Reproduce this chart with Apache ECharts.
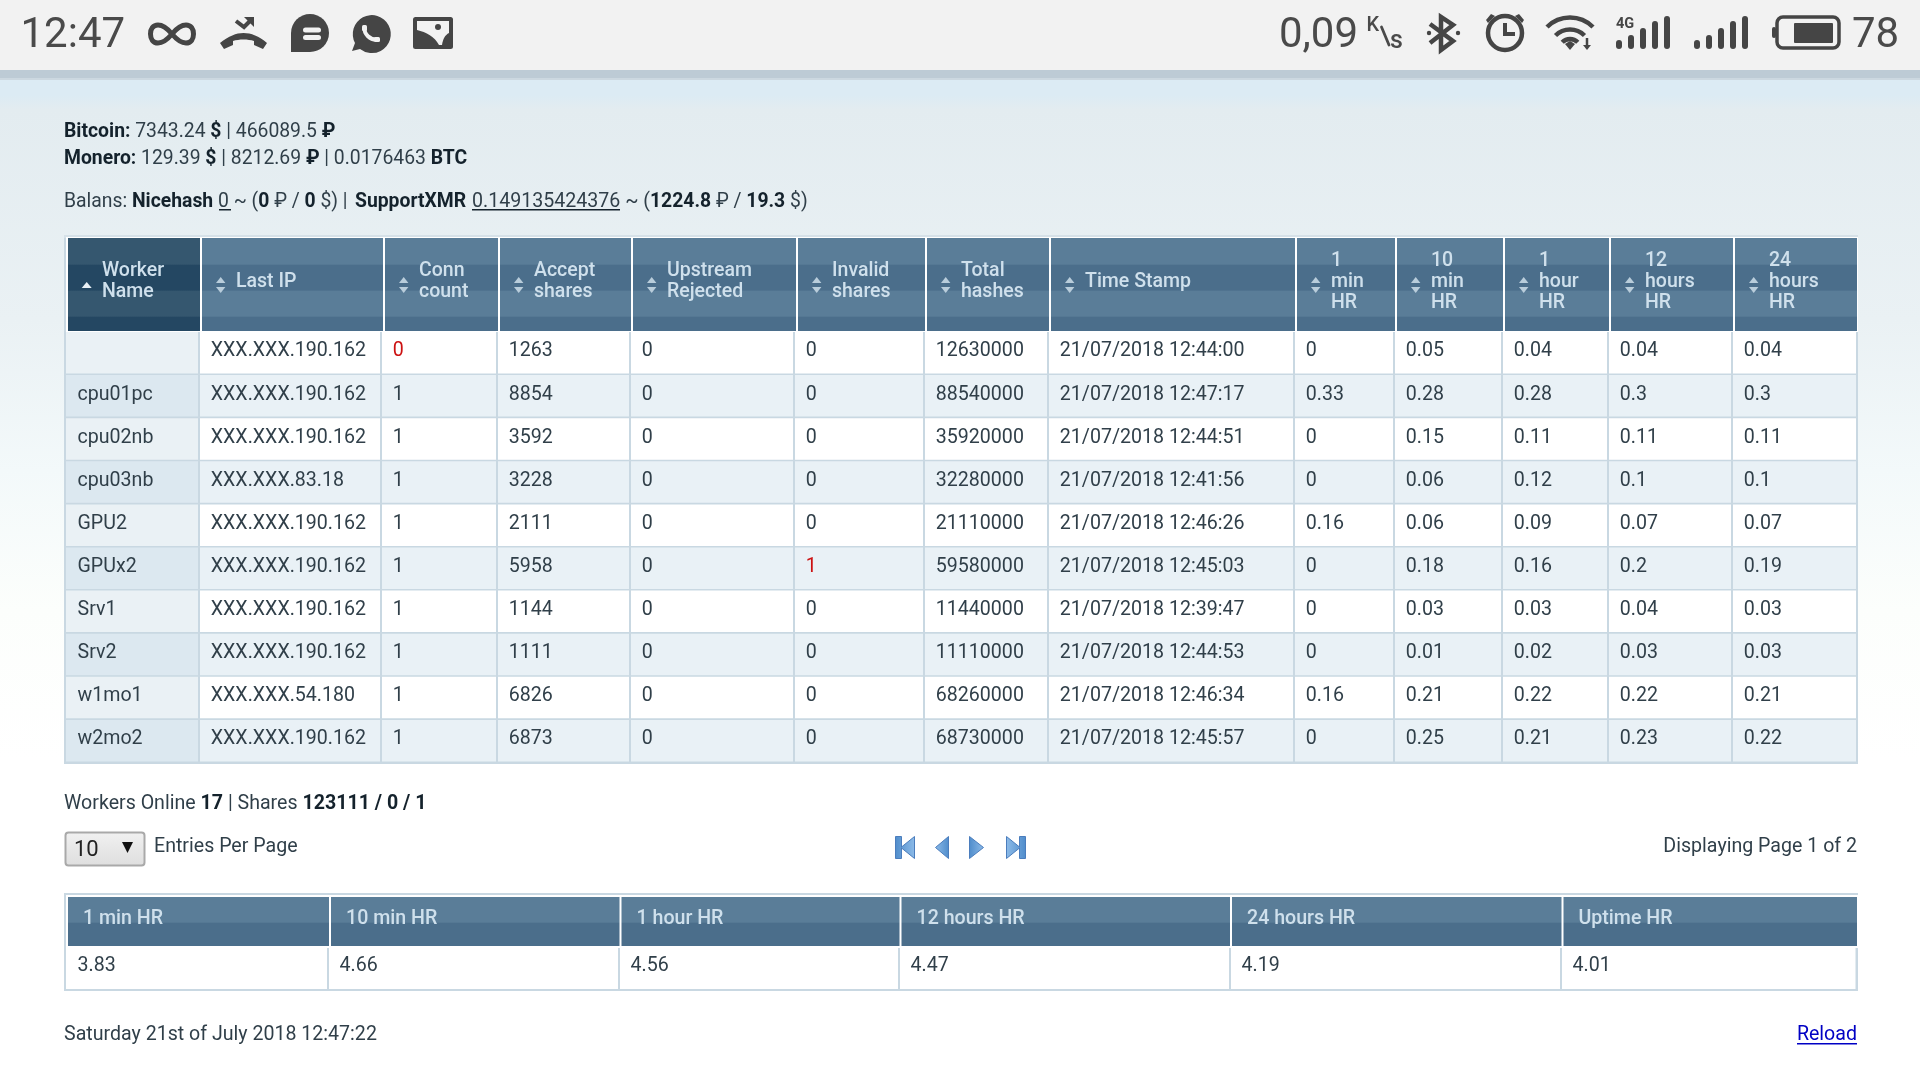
<!DOCTYPE html>
<html><head><meta charset="utf-8">
<style>html,body{margin:0;padding:0;background:#fff}#c{width:1920px;height:1080px}</style>
<script src="https://cdn.jsdelivr.net/npm/echarts@6/dist/echarts.min.js"></script>
</head><body><div id="c"></div>
<script>
// ---- data ----
const headers = ["Worker\nName","Last IP","Conn\ncount","Accept\nshares","Upstream\nRejected","Invalid\nshares","Total\nhashes","Time Stamp","1\nmin\nHR","10\nmin\nHR","1\nhour\nHR","12\nhours\nHR","24\nhours\nHR"];
const workers = ["","cpu01pc","cpu02nb","cpu03nb","GPU2","GPUx2","Srv1","Srv2","w1mo1","w2mo2"];
const lastIPs = ["XXX.XXX.190.162","XXX.XXX.190.162","XXX.XXX.190.162","XXX.XXX.83.18","XXX.XXX.190.162","XXX.XXX.190.162","XXX.XXX.190.162","XXX.XXX.190.162","XXX.XXX.54.180","XXX.XXX.190.162"];
const connCounts = ["0","1","1","1","1","1","1","1","1","1"];
const acceptShares = ["1263","8854","3592","3228","2111","5958","1144","1111","6826","6873"];
const upstreamRejected = ["0","0","0","0","0","0","0","0","0","0"];
const invalidShares = ["0","0","0","0","0","1","0","0","0","0"];
const totalHashes = ["12630000","88540000","35920000","32280000","21110000","59580000","11440000","11110000","68260000","68730000"];
const timeStamps = ["21/07/2018 12:44:00","21/07/2018 12:47:17","21/07/2018 12:44:51","21/07/2018 12:41:56","21/07/2018 12:46:26","21/07/2018 12:45:03","21/07/2018 12:39:47","21/07/2018 12:44:53","21/07/2018 12:46:34","21/07/2018 12:45:57"];
const hr1min = ["0","0.33","0","0","0.16","0","0","0","0.16","0"];
const hr10min = ["0.05","0.28","0.15","0.06","0.06","0.18","0.03","0.01","0.21","0.25"];
const hr1hour = ["0.04","0.28","0.11","0.12","0.09","0.16","0.03","0.02","0.22","0.21"];
const hr12hours = ["0.04","0.3","0.11","0.1","0.07","0.2","0.04","0.03","0.22","0.23"];
const hr24hours = ["0.04","0.3","0.11","0.1","0.07","0.19","0.03","0.03","0.21","0.22"];
const summaryHeaders = ["1 min HR","10 min HR","1 hour HR","12 hours HR","24 hours HR","Uptime HR"];
const summaryValues = ["3.83","4.66","4.56","4.47","4.19","4.01"];

const columns = [workers,lastIPs,connCounts,acceptShares,upstreamRejected,invalidShares,totalHashes,timeStamps,hr1min,hr10min,hr1hour,hr12hours,hr24hours];

// ---- layout ----
const headEdges = [68,202,385,500,633,798,927,1051,1297,1397,1505,1611,1735,1859];
const bodyEdges = [66,200,382,498,631,795,925,1049,1295,1395,1503,1609,1733,1858];
const rowTop0 = 332, rowStep = 43.1, rowH = 41.5;
const sumHeadEdges = [68,331,621.5,901.5,1232,1563.5,1859];
const sumBodyEdges = [66,329,620,900,1231,1562,1857.5];
const F = 'Roboto';
const FS = 19.6;
const INK = '#303f49', HEADTXT = '#cfe0ec';
const DARK = '#454545';
const BG = '#f2f2f2';

const font = (s,w)=>`${w||400} ${s}px ${F}`;
const rect = (x,y,w,h,fill,r)=>({type:'rect',shape:{x,y,width:w,height:h,r:r||0},style:{fill}});
const txt = (x,y,text,size,fill,opt)=>{opt=opt||{};const st={x,y,text,fill,font:font(size,opt.w),fontFamily:F,fontSize:size,fontWeight:opt.w||400,align:opt.align||'left',textAlign:opt.align||'left',verticalAlign:'middle',textVerticalAlign:'middle',lineHeight:opt.lh};
  if(opt.rich)st.rich=opt.rich;return {type:'text',style:st};};
const path = (d,st)=>({type:'path',shape:{pathData:d},style:st});
const fillP = (d,c)=>path(d,{fill:c||DARK});
const strokeP = (d,lw,c)=>path(d,{fill:'none',stroke:c||DARK,lineWidth:lw,lineCap:'round',lineJoin:'round'});
const band = (h,stops,light,dark)=>{ // hard-edged stripes of the header image
  const cs=[];let cur=0;stops.forEach((e,i)=>{const c=i%2?dark:light;cs.push({offset:cur/h,color:c},{offset:Math.min(1,e/h),color:c});cur=e+1.5;});
  return new echarts.graphic.LinearGradient(0,0,0,1,cs);
};

const richAt = (s)=>({b:{fontFamily:F,fontSize:s,fontWeight:700,fill:'#14222c'},n:{fontFamily:F,fontSize:s,fontWeight:400,fill:INK}});
const boldRich = richAt(FS), priceRich = richAt(19.35);

function chromeBack(params,api){
  return {type:'group',children:[
    rect(0,0,1920,70,BG),
    rect(0,70,1920,9,'#bdcbd5'),
    rect(0,78,1920,2,'#ccd8e0'),
    {type:'rect',shape:{x:0,y:80,width:1920,height:1000},style:{fill:new echarts.graphic.LinearGradient(0,0,0,1,[{offset:0,color:'#dcebf4'},{offset:0.015,color:'#dcebf4'},{offset:0.03,color:'#e3ecf0'},{offset:0.24,color:'#eaf1f4'},{offset:0.39,color:'#f3f9fa'},{offset:0.53,color:'#fcfefc'},{offset:0.68,color:'#ffffff'},{offset:1,color:'#ffffff'}])}},
    // table frames
    rect(64,235,1794,529,'#c9d8e2'),
    rect(64,235,1794,3,'#d6e1e8'),
    rect(66,237,1792,95,'#ffffff'),
    rect(64,893,1794,98,'#c9d8e2'),
    rect(66,895,1792,53,'#ffffff'),
  ]};
}

function headCell(params,api){
  const c=api.value(0);
  const a=api.coord([headEdges[c],238]),b=api.coord([headEdges[c+1]-2,331]);
  const sorted=c===0;
  const h=b[1]-a[1];
  const x0=a[0],ax=headEdges[c]+18.7,tx=headEdges[c]+34,cy=a[1]+44;
  const lines=headers[c].split('\n');
  const kids=[{type:'rect',shape:{x:x0,y:a[1],width:b[0]-x0,height:h},style:{fill:band(h,[26,52,78,h],sorted?'#35576f':'#5a7d98',sorted?'#244762':'#4b6e8b')}}];
  const lh=21;
  lines.forEach((t,i)=>{kids.push(txt(tx,cy+(i-(lines.length-1)/2)*lh,t,19.5,HEADTXT,{w:500}));});
  const up=sorted?'#e8f0f5':'#b9cddb',dn=up;
  const ay=a[1]+48;
  if(sorted){kids.push(fillP(`M${ax-5} ${ay+2} L${ax} ${ay-4} L${ax+5} ${ay+2} Z`,up));}
  else{kids.push(fillP(`M${ax-4.7} ${ay-3} L${ax} ${ay-9} L${ax+4.7} ${ay-3} Z`,up),fillP(`M${ax-4.7} ${ay+1} L${ax} ${ay+7} L${ax+4.7} ${ay+1} Z`,dn));}
  return {type:'group',children:kids};
}

function bodyCell(params,api){
  const c=api.value(0),r=api.value(1);
  const top=rowTop0+r*rowStep;
  const a=api.coord([bodyEdges[c],top]),b=api.coord([bodyEdges[c+1]-2,top+rowH]);
  const alt=r%2===1;
  const fill=c===0?(alt?'#dce8f0':'#eaf1f5'):(alt?'#e9f1f6':'#ffffff');
  const text=columns[c][r];
  const red=(c===2&&text==='0')||(c===5&&text!=='0');
  return {type:'group',children:[
    {type:'rect',shape:{x:a[0],y:a[1],width:b[0]-a[0],height:b[1]-a[1]},style:{fill}},
    txt(a[0]+(c===0?11.5:10.8),(a[1]+b[1])/2-1.2,text,FS,red?'#cc1111':INK)
  ]};
}

function sumHead(params,api){
  const c=api.value(0);
  const a=api.coord([sumHeadEdges[c],897]),b=api.coord([sumHeadEdges[c+1]-2,946]);
  const h=b[1]-a[1];
  return {type:'group',children:[
    {type:'rect',shape:{x:a[0],y:a[1],width:b[0]-a[0],height:h},style:{fill:band(h,[25,h],'#5a7d98','#4b6e8b')}},
    txt(a[0]+15,a[1]+22.5,summaryHeaders[c],FS,HEADTXT,{w:500})
  ]};
}
function sumBody(params,api){
  const c=api.value(0);
  const a=api.coord([sumBodyEdges[c],948]),b=api.coord([sumBodyEdges[c+1]-2,989]);
  return {type:'group',children:[
    {type:'rect',shape:{x:a[0],y:a[1],width:b[0]-a[0],height:b[1]-a[1]},style:{fill:'#ffffff'}},
    txt(a[0]+(c===0?11.5:10.5),a[1]+18,summaryValues[c],FS,INK)
  ]};
}

function chromeFront(params,api){
  const kids=[];
  // status bar text
  kids.push(txt(20.5,36.5,'12:47',42,'#4a4a4a',{w:400}));
  kids.push(txt(1279,36.5,'0,09',42,'#4a4a4a',{w:400}));
  kids.push(txt(1366.5,26,'K',20,'#4a4a4a',{w:500}));
  kids.push(strokeP('M1381.5 27 L1389 45',2.8,'#4a4a4a'));
  kids.push(txt(1390,42,'s',25,'#4a4a4a',{w:500}));
  kids.push(txt(1852,36.5,'78',42,'#4a4a4a',{w:400}));
  // infinity
  kids.push(strokeP('M172 34 C167 28,162 25,158 25 C153 25,150.5 29,150.5 34 C150.5 39,153 43,158 43 C162 43,167 40,172 34 C177 28,182 25,186 25 C191 25,193.5 29,193.5 34 C193.5 39,191 43,186 43 C182 43,177 40,172 34Z',5));
  // missed call
  kids.push(fillP('M220 43 C229 36,236 33,243.5 33 C251 33,259 36,267 43 L263 49 L254 45 L254 41 C248 39,239 39,233 41 L233 45 L224 49 Z'));
  kids.push(path('M236 21 L244 27 L252 19',{fill:'none',stroke:DARK,lineWidth:4}));
  kids.push(fillP('M244 17 L254 17 L254 27 Z'));
  // chat bubble
  kids.push(fillP('M291 52 L291 33 A19 19 0 1 1 310 52 Z'));
  kids.push(rect(303,27.5,18,5,BG,2.5),rect(303,35,18,5,BG,2.5));
  // whatsapp
  kids.push(fillP('M352 51 L355 43 A19 19 0 1 1 360 49 Z'));
  kids.push(path('M364.5 28 C364 34,370 40,377 39.5',{fill:'none',stroke:BG,lineWidth:4,lineCap:'round'}));
  kids.push(rect(362,25,5,6,BG,1.5),rect(374,37,6,5,BG,1.5));
  // image notification
  kids.push(rect(413,17,40,32,DARK,2.5));
  kids.push(fillP('M417 21 L449 21 L449 33 C445 35,443 39,442 45 L439 45 C435 37,426 32,417 30 Z',BG));
  kids.push({type:'circle',shape:{cx:438,cy:27,r:3},style:{fill:DARK}});
  // bluetooth
  kids.push(path('M1430 24 L1453 41 L1441 50 L1441 17 L1453 25 L1430 43',{fill:'none',stroke:DARK,lineWidth:4.5}));
  kids.push({type:'circle',shape:{cx:1429,cy:33,r:2.2},style:{fill:DARK}},{type:'circle',shape:{cx:1458,cy:33,r:2.2},style:{fill:DARK}});
  // alarm
  kids.push({type:'circle',shape:{cx:1505,cy:33,r:17},style:{fill:'none',stroke:DARK,lineWidth:4.5}});
  kids.push(path('M1505 23 L1505 34 L1515 34',{fill:'none',stroke:DARK,lineWidth:4}));
  kids.push(fillP('M1486 20 L1491 14 L1495 16 L1488 23 Z'),fillP('M1524 20 L1519 14 L1515 16 L1522 23 Z'));
  // wifi
  const arc=(r)=>{const d=r*0.7071;return `M${1570-d} ${50-d} A${r} ${r} 0 0 1 ${1570+d} ${50-d}`;};
  kids.push(path(arc(32.5),{fill:'none',stroke:DARK,lineWidth:4.5}));
  kids.push(path(arc(20.5),{fill:'none',stroke:DARK,lineWidth:4.5}));
  kids.push(path(arc(11),{fill:'none',stroke:DARK,lineWidth:4.5}));
  kids.push(fillP('M1565 44 L1570 41 L1575 44 L1570 50 Z'));
  kids.push(path('M1587 38 L1587 47',{fill:'none',stroke:DARK,lineWidth:2.5}));
  kids.push(fillP('M1583 45 L1591 45 L1587 50 Z'));
  // signal bars
  [[1616,40],[1628,35],[1640,28],[1652,21],[1664,16]].forEach(b=>kids.push(rect(b[0],b[1],6,49-b[1],DARK,3)));
  kids.push(txt(1616,24,'4G',14.5,DARK,{w:700}));
  [[1694,40],[1706,35],[1718,28],[1730,21],[1742,16]].forEach(b=>kids.push(rect(b[0],b[1],6,49-b[1],DARK,3)));
  // battery
  kids.push({type:'rect',shape:{x:1777,y:17,width:62,height:31,r:6},style:{fill:'none',stroke:DARK,lineWidth:3.5}});
  kids.push(rect(1772,27,4,11,DARK,2),rect(1794,23,39,20,DARK,1));

  // price text
  kids.push(txt(64,132,'{b|Bitcoin:} {n|7343.24} {b|$} {n|| 466089.5} {b|₽}',19.35,INK,{rich:priceRich}));
  kids.push(txt(64,159,'{b|Monero:} {n|129.39} {b|$} {n|| 8212.69} {b|₽} {n|| 0.0176463} {b|BTC}',19.35,INK,{rich:priceRich}));
  kids.push(txt(64,202,'{n|Balans:} {b|Nicehash} {n|0 ~ (}{b|0} {n|₽ /} {b|0} {n|$) |}',19.35,INK,{rich:priceRich}));
  kids.push(txt(355,202,'SupportXMR',19.35,'#14222c',{w:700}));
  kids.push(txt(472,202,'0.149135424376 ~ (',FS,INK));
  kids.push(txt(650,202,'{b|1224.8} {n|₽ /} {b|19.3} {n|$)}',19.35,INK,{rich:priceRich}));
  kids.push(rect(219,209,12,1.5,'#14222c'),rect(472,209,148,1.5,'#14222c'));

  // footer texts
  kids.push(txt(64,804,'{n|Workers Online} {b|17} {n|| Shares} {b|123111 / 0 / 1}',FS,INK,{rich:boldRich}));
  // select
  kids.push({type:'rect',shape:{x:65.5,y:832.5,width:79,height:33,r:3},style:{fill:new echarts.graphic.LinearGradient(0,0,0,1,[{offset:0,color:'#f1f1f1'},{offset:1,color:'#dedede'}]),stroke:'#a9a9a9',lineWidth:2}});
  kids.push(txt(74,850,'10',22,'#222222'));
  kids.push(fillP('M122 842 L133 842 L127.5 853 Z','#111111'));
  kids.push(txt(154,847,'Entries Per Page',FS,INK));
  // pager
  const grad=new echarts.graphic.LinearGradient(0,0,1,0,[{offset:0,color:'#4f8ccb'},{offset:1,color:'#8dbbe8'}]);
  const grad2=new echarts.graphic.LinearGradient(0,0,1,0,[{offset:0,color:'#8dbbe8'},{offset:1,color:'#4f8ccb'}]);
  const pst=(g)=>({fill:g,stroke:'#4b7dbd',lineWidth:1});
  kids.push(path('M895.5 836.5 L901.5 836.5 L901.5 847 L914.5 836.5 L914.5 858.5 L901.5 848 L901.5 858.5 L895.5 858.5 Z',pst(grad)));
  kids.push(path('M948.5 836.5 L948.5 858.5 L935.5 847.5 Z',pst(grad2)));
  kids.push(path('M969.5 836.5 L969.5 858.5 L983.5 847.5 Z',pst(grad)));
  kids.push(path('M1006.5 836.5 L1019.5 847 L1019.5 836.5 L1025.5 836.5 L1025.5 858.5 L1019.5 858.5 L1019.5 848 L1006.5 858.5 Z',pst(grad2)));
  kids.push(txt(1857,847,'Displaying Page 1 of 2',FS,INK,{align:'right'}));
  // bottom
  kids.push(txt(64,1035,'Saturday 21st of July 2018 12:47:22',FS,INK));
  kids.push(txt(1857,1035,'Reload',FS,'#0000c4',{align:'right'}));
  kids.push(rect(1797,1043,60,1.5,'#0000c4'));
  return {type:'group',children:kids};
}

const bodyData=[];columns.forEach((col,c)=>col.forEach((v,r)=>bodyData.push([c,r])));
const custom=(name,renderItem,data,z)=>({type:'custom',name,renderItem,data,coordinateSystem:'cartesian2d',clip:false,silent:true,z,animation:false,encode:{x:0,y:1}});

const chart=echarts.init(document.getElementById('c'),null,{renderer:'canvas',width:1920,height:1080});
chart.setOption({
  animation:false,
  backgroundColor:'#ffffff',
  grid:{left:0,right:0,top:0,bottom:0,containLabel:false},
  xAxis:{type:'value',min:0,max:1920,show:false},
  yAxis:{type:'value',min:0,max:1080,inverse:true,show:false},
  tooltip:{show:false},
  series:[
    custom('page',chromeBack,[[0,0]],1),
    custom('head',headCell,headers.map((h,i)=>[i,0]),2),
    custom('body',bodyCell,bodyData,2),
    custom('sumHead',sumHead,summaryHeaders.map((h,i)=>[i,0]),2),
    custom('sumBody',sumBody,summaryValues.map((h,i)=>[i,0]),2),
    custom('chrome',chromeFront,[[0,0]],3)
  ]
});
</script></body></html>
